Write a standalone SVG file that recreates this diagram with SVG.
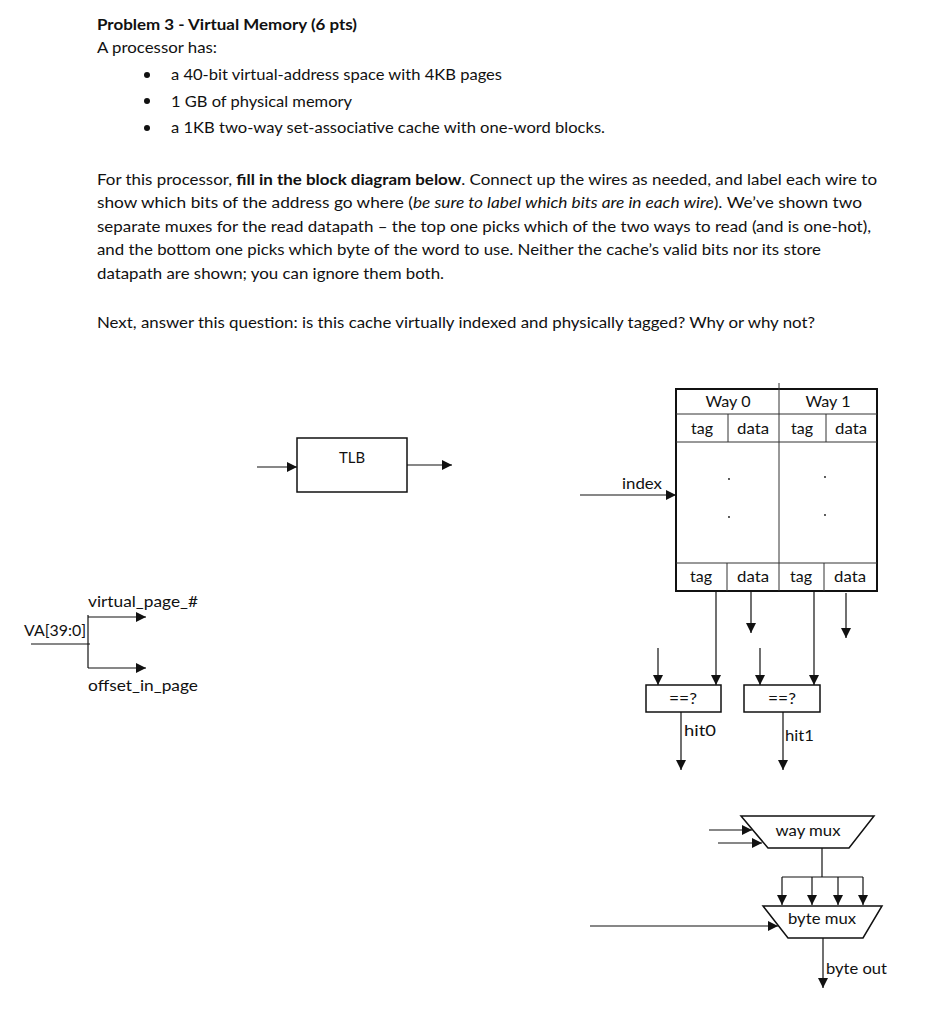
<svg xmlns="http://www.w3.org/2000/svg" width="933" height="1024" viewBox="0 0 933 1024">
<style>
text{font-family:Lato,"Liberation Sans",sans-serif;fill:#111}
.p{font-size:14.7px}
.t{font-size:16px}
.s{font-size:15px}
.c{text-anchor:middle}
.b{font-weight:bold}
.ln{stroke:#111;stroke-width:1.2;fill:none}
.box{stroke:#111;stroke-width:1.5;fill:#fff}
.thin{stroke:#333;stroke-width:1;fill:none}
.ar{stroke:#111;stroke-width:1.2;fill:none;marker-end:url(#ah)}
</style>
<defs>
<marker id="ah" viewBox="0 0 10 10" refX="10" refY="5" markerWidth="10" markerHeight="10" markerUnits="userSpaceOnUse" orient="auto">
<path d="M0,0 L10,5 L0,10 z" fill="#111"/>
</marker>
</defs>
<rect width="933" height="1024" fill="#fff"/>

<g id="problem-text">
<text x="97" y="30" class="p b" textLength="260" lengthAdjust="spacingAndGlyphs">Problem 3 - Virtual Memory (6 pts)</text>
<text x="97" y="53" class="p" textLength="120" lengthAdjust="spacingAndGlyphs">A processor has:</text>
<circle cx="147" cy="75" r="3" fill="#111"/>
<circle cx="147" cy="101" r="3" fill="#111"/>
<circle cx="147" cy="128" r="3" fill="#111"/>
<text x="171" y="80" class="p" textLength="331" lengthAdjust="spacingAndGlyphs">a 40-bit virtual-address space with 4KB pages</text>
<text x="171" y="107" class="p" textLength="181" lengthAdjust="spacingAndGlyphs">1 GB of physical memory</text>
<text x="171" y="133" class="p" textLength="434" lengthAdjust="spacingAndGlyphs">a 1KB two-way set-associative cache with one-word blocks.</text>
<text x="97" y="185" class="p" textLength="780" lengthAdjust="spacingAndGlyphs">For this processor, <tspan class="b">fill in the block diagram below</tspan>. Connect up the wires as needed, and label each wire to</text>
<text x="97" y="208" class="p" textLength="765" lengthAdjust="spacingAndGlyphs">show which bits of the address go where (<tspan font-style="italic">be sure to label which bits are in each wire</tspan>). We’ve shown two</text>
<text x="97" y="232" class="p" textLength="774" lengthAdjust="spacingAndGlyphs">separate muxes for the read datapath – the top one picks which of the two ways to read (and is one-hot),</text>
<text x="97" y="255" class="p" textLength="724" lengthAdjust="spacingAndGlyphs">and the bottom one picks which byte of the word to use. Neither the cache’s valid bits nor its store</text>
<text x="97" y="279" class="p" textLength="347" lengthAdjust="spacingAndGlyphs">datapath are shown; you can ignore them both.</text>
<text x="97" y="328" class="p" textLength="718" lengthAdjust="spacingAndGlyphs">Next, answer this question: is this cache virtually indexed and physically tagged? Why or why not?</text>
</g>

<g id="connectors">
<line class="ar" x1="257" y1="467" x2="297" y2="467"/>
<line class="ar" x1="407" y1="465" x2="452" y2="465"/>
<line class="ar" x1="580" y1="495" x2="676" y2="495"/>
<line class="ln" x1="31" y1="644" x2="90" y2="644"/>
<line class="ln" x1="88" y1="615" x2="88" y2="668"/>
<line class="ar" x1="88" y1="617" x2="146" y2="617"/>
<line class="ar" x1="88" y1="668" x2="146" y2="668"/>
<line class="ar" x1="716" y1="591" x2="716" y2="685"/>
<line class="ar" x1="751" y1="591" x2="751" y2="633"/>
<line class="ar" x1="814" y1="591" x2="814" y2="685"/>
<line class="ar" x1="846" y1="593" x2="846" y2="638"/>
<line class="ar" x1="658" y1="648" x2="658" y2="685"/>
<line class="ar" x1="760" y1="648" x2="760" y2="685"/>
<line class="ar" x1="681" y1="712" x2="681" y2="770"/>
<line class="ar" x1="783" y1="712" x2="783" y2="770"/>
<line class="ar" x1="709" y1="830" x2="752" y2="830"/>
<line class="ar" x1="718" y1="843" x2="762" y2="843"/>
<line class="ln" x1="822" y1="848" x2="822" y2="877"/>
<line class="ln" x1="782" y1="877" x2="863" y2="877"/>
<line class="ar" x1="782" y1="877" x2="782" y2="905"/>
<line class="ar" x1="812" y1="877" x2="812" y2="905"/>
<line class="ar" x1="838" y1="877" x2="838" y2="905"/>
<line class="ar" x1="863" y1="877" x2="863" y2="905"/>
<line class="ar" x1="590" y1="926" x2="778" y2="926"/>
<line class="ar" x1="823" y1="938" x2="823" y2="988"/>
</g>

<g id="tlb">
<rect class="box" x="297" y="438" width="110" height="54"/>
<text x="352" y="463" class="s c" textLength="26" lengthAdjust="spacingAndGlyphs">TLB</text>
</g>

<g id="va-split">
<text x="24" y="636" class="t" textLength="62" lengthAdjust="spacingAndGlyphs">VA[39:0]</text>
<text x="88" y="607" class="t" textLength="110" lengthAdjust="spacingAndGlyphs">virtual_page_#</text>
<text x="88" y="691" class="t" textLength="110" lengthAdjust="spacingAndGlyphs">offset_in_page</text>
</g>

<g id="cache">
<rect x="676" y="389" width="201" height="202" fill="#fff" stroke="#111" stroke-width="2"/>
<line class="thin" x1="779" y1="383" x2="779" y2="591"/>
<line class="thin" x1="676" y1="414" x2="877" y2="414"/>
<line class="thin" x1="676" y1="442" x2="877" y2="442"/>
<line class="thin" x1="728" y1="414" x2="728" y2="442"/>
<line class="thin" x1="826" y1="414" x2="826" y2="442"/>
<line class="thin" x1="676" y1="563" x2="877" y2="563"/>
<line class="thin" x1="727" y1="563" x2="727" y2="591"/>
<line class="thin" x1="824" y1="563" x2="824" y2="591"/>
<text x="728" y="407" class="t c" textLength="45" lengthAdjust="spacingAndGlyphs">Way 0</text>
<text x="828" y="407" class="t c" textLength="45" lengthAdjust="spacingAndGlyphs">Way 1</text>
<text x="702" y="434" class="t c" textLength="22" lengthAdjust="spacingAndGlyphs">tag</text>
<text x="753" y="434" class="t c" textLength="32" lengthAdjust="spacingAndGlyphs">data</text>
<text x="802" y="434" class="t c" textLength="22" lengthAdjust="spacingAndGlyphs">tag</text>
<text x="851" y="434" class="t c" textLength="32" lengthAdjust="spacingAndGlyphs">data</text>
<text x="701" y="582" class="t c" textLength="22" lengthAdjust="spacingAndGlyphs">tag</text>
<text x="753" y="582" class="t c" textLength="32" lengthAdjust="spacingAndGlyphs">data</text>
<text x="801" y="582" class="t c" textLength="22" lengthAdjust="spacingAndGlyphs">tag</text>
<text x="850" y="582" class="t c" textLength="32" lengthAdjust="spacingAndGlyphs">data</text>
<circle cx="729" cy="479" r="0.9" fill="#111"/>
<circle cx="729" cy="517" r="0.9" fill="#111"/>
<circle cx="825" cy="477" r="0.9" fill="#111"/>
<circle cx="825" cy="515" r="0.9" fill="#111"/>
<text x="622" y="489" class="t" textLength="40" lengthAdjust="spacingAndGlyphs">index</text>
</g>

<g id="cmp0">
<rect class="box" x="646" y="685" width="75" height="27"/>
<text x="683" y="704" class="s c" textLength="28" lengthAdjust="spacingAndGlyphs">==?</text>
<text x="684" y="736" class="s" textLength="32" lengthAdjust="spacingAndGlyphs">hit0</text>
</g>

<g id="cmp1">
<rect class="box" x="744" y="685" width="76" height="27"/>
<text x="782" y="704" class="s c" textLength="28" lengthAdjust="spacingAndGlyphs">==?</text>
<text x="785" y="741" class="s" textLength="29" lengthAdjust="spacingAndGlyphs">hit1</text>
</g>

<g id="way-mux">
<polygon class="box" points="741,816 874,816 849,848 768,848"/>
<text x="808" y="836" class="t c" textLength="65" lengthAdjust="spacingAndGlyphs">way mux</text>
</g>

<g id="byte-mux">
<polygon class="box" points="763,906 882,906 863,938 788,938"/>
<text x="822" y="924" class="t c" textLength="68" lengthAdjust="spacingAndGlyphs">byte mux</text>
<text x="826" y="974" class="t" textLength="61" lengthAdjust="spacingAndGlyphs">byte out</text>
</g>
</svg>
